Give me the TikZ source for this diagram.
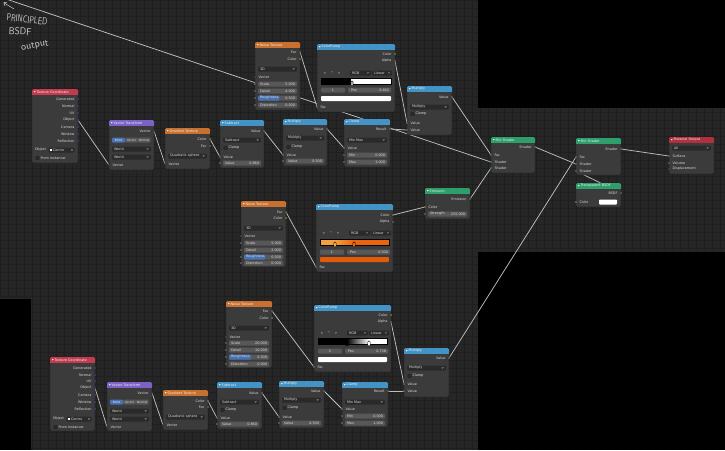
\documentclass[tikz,border=0pt]{standalone}
\usepackage{fontspec}
\setmainfont{DejaVu Sans}
\usetikzlibrary{arrows.meta}
\definecolor{bgc}{HTML}{262626}
\definecolor{gridc}{HTML}{1F1F1F}
\definecolor{nodegray}{HTML}{3B3B3B}
\definecolor{nodeedge}{HTML}{1A1A1A}
\definecolor{hred}{HTML}{C43A4F}
\definecolor{hredb}{HTML}{B22F40}
\definecolor{hpur}{HTML}{7C62C8}
\definecolor{horg}{HTML}{C8702F}
\definecolor{hblu}{HTML}{4393C6}
\definecolor{hgrn}{HTML}{2E9E6A}
\definecolor{hdtxt}{HTML}{F0F0F0}
\definecolor{txtgray}{HTML}{D9D9D9}
\definecolor{fldgray}{HTML}{585858}
\definecolor{ddgray}{HTML}{2A2A2A}
\definecolor{selblue}{HTML}{4772B3}
\definecolor{sgry}{HTML}{A1A1A1}
\definecolor{scol}{HTML}{C7C729}
\definecolor{svec}{HTML}{6363C7}
\definecolor{sgrn}{HTML}{63C763}
\definecolor{sockedge}{HTML}{111111}
\definecolor{linkgray}{HTML}{BEBEBE}
\definecolor{handc}{HTML}{D0D0D0}
\definecolor{orA}{HTML}{F4A040}
\definecolor{orB}{HTML}{E8640F}
\definecolor{orS}{HTML}{E35A08}
\pgfdeclarelayer{back}
\pgfdeclarelayer{wires}
\pgfsetlayers{back,wires,main}
\newcommand{\rtf}{\fontsize{3.4}{4}\selectfont}
\newcommand{\smf}{\fontsize{2.9}{3.4}\selectfont}
\tikzset{
  nbody/.style={draw=nodeedge, line width=0.4pt, fill=nodegray, rounded corners=1.3pt, inner sep=0pt, outer sep=0pt},
  htxt/.style={font=\rtf, text=hdtxt, inner sep=0pt, outer sep=0pt},
  rtxt/.style={font=\rtf, text=txtgray, inner sep=0pt, outer sep=0pt},
  stxt/.style={font=\smf, text=txtgray, inner sep=0pt, outer sep=0pt},
  sock/.style={circle, minimum size=2.4pt, inner sep=0pt, outer sep=0pt, draw=sockedge, line width=0.25pt},
  numfld/.style={fill=fldgray, rounded corners=1pt, inner sep=0pt, outer sep=0pt, minimum height=5pt},
  ddfld/.style={fill=ddgray, rounded corners=1pt, inner sep=0pt, outer sep=0pt, minimum height=5pt},
  wire/.style={draw=linkgray, line width=0.75pt},
  chev/.style={draw=txtgray, line width=0.3pt},
  hand/.style={font=\sffamily\fontsize{10}{10}\selectfont, text=handc, inner sep=0pt},
  swatch/.style={rounded corners=0.8pt, inner sep=0pt, outer sep=0pt, minimum height=5pt},
}
% name, x, y, w, h, colour, title
\newcommand{\BNode}[7]{%
  \node[nbody, minimum width=#4pt, minimum height=#5pt, anchor=north west] (#1) at (#2,#3) {};
  \fill[#6, rounded corners=1.3pt] (#2,#3) rectangle ++(#4,5.6);
  \fill[#6] (#2,#3+3) rectangle ++(#4,2.6);
  \fill[hdtxt] (#2+1.8,#3+2.2) -- ++(1.8,0) -- ++(-0.9,1.3) -- cycle;
  \node[htxt, anchor=west] (#1-t) at (#2+4.6,#3+2.9) {#7};
}
\newcommand{\OutS}[5]{%
  \node[rtxt, anchor=east] (#1-l) at (#2-3.5,#3) {#5};
  \node[sock, fill=#4] (#1) at (#2,#3) {};
}
\newcommand{\InS}[5]{%
  \node[sock, fill=#4] (#1) at (#2,#3) {};
  \node[rtxt, anchor=west] (#1-l) at (#2+3.5,#3) {#5};
}
\newcommand{\InF}[6]{%
  \node[sock, fill=sgry] (#1) at (#2,#3) {};
  \node[numfld, minimum width={#4pt-6pt}, anchor=west] (#1-f) at (#2+3,#3) {};
  \node[rtxt, anchor=west] (#1-l) at (#2+5,#3) {#5};
  \node[rtxt, anchor=east] (#1-v) at (#2+#4-5,#3) {#6};
}
\newcommand{\InFR}[6]{%
  \node[sock, fill=sgry] (#1) at (#2,#3) {};
  \node[numfld, minimum width={#4pt-6pt}, anchor=west] (#1-f) at (#2+3,#3) {};
  \fill[selblue, rounded corners=1pt] (#2+3,#3-2.5) rectangle (#2+3+0.55*#4-3.3,#3+2.5);
  \node[rtxt, anchor=west] (#1-l) at (#2+5,#3) {#5};
  \node[rtxt, anchor=east] (#1-v) at (#2+#4-5,#3) {#6};
}
\newcommand{\DDn}[5]{%
  \node[ddfld, minimum width={#4pt-6pt}, anchor=west] (#1) at (#2+3,#3) {};
  \node[rtxt, anchor=west] (#1-l) at (#2+5,#3) {#5};
  \draw[chev] (#2+#4-7.2,#3-0.5) -- ++(0.8,0.8) -- ++(0.8,-0.8);
}
\newcommand{\ChkB}[4]{%
  \node[ddfld, minimum width=3.4pt, minimum height=3.4pt, rounded corners=0.6pt, draw=nodeedge, line width=0.2pt] (#1) at (#2+5.5,#3) {};
  \node[rtxt, anchor=west] (#1-l) at (#2+8.5,#3) {#4};
}
\newcommand{\ObjRow}[4]{%
  \node[rtxt, anchor=west] (#1-l) at (#2+3,#3) {Object};
  \node[ddfld, minimum width={#4pt-20pt}, anchor=west] (#1) at (#2+16.5,#3) {};
  \node[fill=white, minimum size=2.2pt, inner sep=0pt] (#1-i) at (#2+19,#3) {};
  \node[rtxt, anchor=west] (#1-v) at (#2+21,#3) {Contro};
  \node[rtxt, anchor=east] (#1-x) at (#2+#4-4.5,#3) {×};
}
\newcommand{\SegRow}[3]{%
  \node[numfld, fill=selblue, minimum width=13pt, anchor=west] (#1-a) at (#2+3,#3) {};
  \node[numfld, minimum width=12.6pt, anchor=west] (#1-b) at (#2+16.2,#3) {};
  \node[numfld, minimum width=12.6pt, anchor=west] (#1-c) at (#2+29,#3) {};
  \node[stxt, text=white] (#1-at) at (#1-a) {Point};
  \node[stxt] (#1-bt) at (#1-b) {Vector};
  \node[stxt] (#1-ct) at (#1-c) {Normal};
}
\newcommand{\RampTools}[3]{%
  \node[rtxt] (#1-p) at (#2+8,#3) {+};
  \node[rtxt] (#1-m) at (#2+15,#3) {−};
  \draw[chev] (#2+21,#3-0.5) -- ++(0.8,0.8) -- ++(0.8,-0.8);
  \node[ddfld, minimum width=21pt, anchor=west] (#1-r) at (#2+33,#3) {};
  \node[rtxt, anchor=west] (#1-rl) at (#2+35,#3) {RGB};
  \draw[chev] (#2+50,#3-0.5) -- ++(0.8,0.8) -- ++(0.8,-0.8);
  \node[ddfld, minimum width=20pt, anchor=west] (#1-n) at (#2+55,#3) {};
  \node[rtxt, anchor=west] (#1-nl) at (#2+57,#3) {Linear};
  \draw[chev] (#2+71,#3-0.5) -- ++(0.8,0.8) -- ++(0.8,-0.8);
}
\newcommand{\RampRow}[5]{%
  \node[numfld, minimum width=24pt, anchor=west] (#1-i) at (#2+4,#3) {};
  \node[rtxt] (#1-it) at (#1-i) {#4};
  \node[numfld, minimum width=43pt, anchor=west] (#1-p) at (#2+31,#3) {};
  \node[rtxt, anchor=west] (#1-pl) at (#2+34,#3) {Pos};
  \node[rtxt, anchor=east] (#1-pv) at (#2+72,#3) {#5};
}
\newcommand{\RMark}[3]{%
  \draw[black, line width=0.3pt, fill=#3] (#1-1.2,#2+1.5) -- (#1-1.2,#2-2) -- (#1,#2-3.2) -- (#1+1.2,#2-2) -- (#1+1.2,#2+1.5) -- cycle;
}
\begin{document}
\begin{tikzpicture}[x=1pt,y=-1pt]
\useasboundingbox (0,0) rectangle (725,450);
\begin{pgfonlayer}{back}
  \fill[bgc] (0,0) rectangle (725,450);
  \draw[gridc, line width=0.35pt, step=8pt] (0,0) grid (725,450);
  \fill[black] (478,0) rectangle (725,108);
  \fill[black] (478,252) rectangle (725,450);
  \fill[black] (0,299) rectangle (31,450);
\end{pgfonlayer}

% ---------------- TOP ----------------
\BNode{tca}{32}{89}{46}{74}{hred}{Texture Coordinate}
\OutS{tca-gen}{78}{99}{svec}{Generated}
\OutS{tca-nor}{78}{106}{svec}{Normal}
\OutS{tca-uv}{78}{113}{svec}{UV}
\OutS{tca-obj}{78}{120}{svec}{Object}
\OutS{tca-cam}{78}{127}{svec}{Camera}
\OutS{tca-win}{78}{134}{svec}{Window}
\OutS{tca-ref}{78}{141}{svec}{Reflection}
\ObjRow{tca-o}{32}{150}{46}
\ChkB{tca-fi}{32}{158}{From Instancer}

\BNode{vta}{109}{120}{45}{50}{hpur}{Vector Transform}
\OutS{vta-out}{154}{131}{svec}{Vector}
\SegRow{vta-s}{109}{140}
\DDn{vta-d1}{109}{149}{45}{World}
\DDn{vta-d2}{109}{157}{45}{World}
\InS{vta-in}{109}{165}{svec}{Vector}

\BNode{gra}{165}{128}{45}{41}{horg}{Gradient Texture}
\OutS{gra-col}{210}{139}{scol}{Color}
\OutS{gra-fac}{210}{146}{sgry}{Fac}
\DDn{gra-d}{165}{156}{45}{Quadratic sphere}
\InS{gra-in}{165}{164}{svec}{Vector}

\BNode{sba}{220}{120}{44}{48}{hblu}{Subtract}
\OutS{sba-out}{264}{131}{sgry}{Value}
\DDn{sba-d}{220}{140}{44}{Subtract}
\ChkB{sba-c}{220}{148}{Clamp}
\InS{sba-in}{220}{157}{sgry}{Value}
\InF{sba-v}{220}{163}{44}{Value}{0.860}

\BNode{mla}{283}{119}{44}{47}{hblu}{Multiply}
\OutS{mla-out}{327}{129}{sgry}{Value}
\DDn{mla-d}{283}{138}{44}{Multiply}
\ChkB{mla-c}{283}{147}{Clamp}
\InS{mla-in}{283}{155}{sgry}{Value}
\InF{mla-v}{283}{161}{44}{Value}{0.500}

\BNode{cla}{344}{119}{46}{48}{hblu}{Clamp}
\OutS{cla-out}{390}{129}{sgry}{Result}
\DDn{cla-d}{344}{140}{46}{Min Max}
\InS{cla-in}{344}{148}{sgry}{Value}
\InF{cla-mn}{344}{155}{46}{Min}{0.000}
\InF{cla-mx}{344}{162}{46}{Max}{1.000}

\BNode{mlb}{407}{86}{45}{49}{hblu}{Multiply}
\OutS{mlb-out}{452}{97}{sgry}{Value}
\DDn{mlb-d}{407}{107}{45}{Multiply}
\ChkB{mlb-c}{407}{114}{Clamp}
\InS{mlb-i1}{407}{123}{sgry}{Value}
\InS{mlb-i2}{407}{130}{sgry}{Value}

\BNode{nsa}{255}{42}{45}{68}{horg}{Noise Texture}
\OutS{nsa-fac}{300}{52}{sgry}{Fac}
\OutS{nsa-col}{300}{59}{scol}{Color}
\DDn{nsa-d}{255}{69}{45}{3D}
\InS{nsa-vec}{255}{77}{svec}{Vector}
\InF{nsa-sc}{255}{84}{45}{Scale}{5.000}
\InF{nsa-de}{255}{91}{45}{Detail}{4.000}
\InFR{nsa-ro}{255}{98}{45}{Roughness}{0.500}
\InF{nsa-di}{255}{105}{45}{Distortion}{0.000}

\BNode{cra}{317}{44}{78}{68}{hblu}{ColorRamp}
\OutS{cra-col}{395}{54}{scol}{Color}
\OutS{cra-alp}{395}{61}{sgry}{Alpha}
\RampTools{cra-t}{317}{73}
\node[fill=white, minimum width=70pt, minimum height=6pt, inner sep=0pt, anchor=north west] (cra-bar) at (321,78) {};
\fill[black] (321,78) rectangle (351,84);
\draw[black, line width=0.3pt] (321,78) rectangle (391,84);
\RMark{352}{84}{gray!70}
\RampRow{cra-r}{317}{90}{1}{0.462}
\node[swatch, fill=white, minimum width=70pt, anchor=north west] (cra-sw) at (321,96) {};
\InS{cra-fac}{317}{107}{sgry}{Fac}

\BNode{ema}{425}{188}{45}{31}{hgrn}{Emission}
\OutS{ema-out}{470}{199}{sgrn}{Emission}
\InS{ema-col}{425}{207}{scol}{Color}
\InF{ema-st}{425}{214}{45}{Strength}{255.000}

\BNode{nsb}{241}{201}{45}{66}{horg}{Noise Texture}
\OutS{nsb-fac}{286}{212}{sgry}{Fac}
\OutS{nsb-col}{286}{218}{scol}{Color}
\DDn{nsb-d}{241}{228}{45}{3D}
\InS{nsb-vec}{241}{236}{svec}{Vector}
\InF{nsb-sc}{241}{243}{45}{Scale}{5.000}
\InF{nsb-de}{241}{250}{45}{Detail}{2.000}
\InFR{nsb-ro}{241}{257}{45}{Roughness}{0.500}
\InF{nsb-di}{241}{263}{45}{Distortion}{0.000}

\BNode{crb}{316}{204}{77}{68}{hblu}{ColorRamp}
\OutS{crb-col}{393}{215}{scol}{Color}
\OutS{crb-alp}{393}{222}{sgry}{Alpha}
\RampTools{crb-t}{316}{233}
\node[fill=orA, minimum width=69pt, minimum height=6pt, inner sep=0pt, anchor=north west] (crb-bar) at (320,239) {};
\fill[left color=orA, right color=orB] (335,239) rectangle (354,245);
\fill[orB] (354,239) rectangle (389,245);
\draw[black, line width=0.3pt] (320,239) rectangle (389,245);
\RMark{335}{245}{orA}
\RMark{354}{245}{orB}
\RampRow{crb-r}{316}{252}{1}{0.500}
\node[swatch, fill=orS, minimum width=69pt, anchor=north west] (crb-sw) at (320,257) {};
\InS{crb-fac}{316}{267}{sgry}{Fac}

\BNode{msa}{491}{137}{44}{36}{hgrn}{Mix Shader}
\OutS{msa-out}{535}{147}{sgrn}{Shader}
\InS{msa-fac}{491}{155}{sgry}{Fac}
\InS{msa-s1}{491}{162}{sgrn}{Shader}
\InS{msa-s2}{491}{168}{sgrn}{Shader}

\BNode{msb}{576}{138}{45}{37}{hgrn}{Mix Shader}
\OutS{msb-out}{621}{149}{sgrn}{Shader}
\InS{msb-fac}{576}{157}{sgry}{Fac}
\InS{msb-s1}{576}{164}{sgrn}{Shader}
\InS{msb-s2}{576}{171}{sgrn}{Shader}

\BNode{tba}{576}{183}{45}{24}{hgrn}{Transparent BSDF}
\OutS{tba-out}{621}{193}{sgrn}{BSDF}
\InS{tba-col}{576}{202}{scol}{Color}
\node[swatch, fill=white, minimum width=18pt, anchor=west] (tba-sw) at (599,202) {};

\BNode{moa}{669}{137}{45}{37}{hredb}{Material Output}
\DDn{moa-d}{669}{148}{45}{All}
\InS{moa-su}{669}{156}{sgrn}{Surface}
\InS{moa-vo}{669}{163}{sgrn}{Volume}
\InS{moa-di}{669}{169}{svec}{Displacement}

% ---------------- BOTTOM ----------------
\BNode{tcb}{50}{357}{45}{74}{hred}{Texture Coordinate}
\OutS{tcb-gen}{95}{368}{svec}{Generated}
\OutS{tcb-nor}{95}{375}{svec}{Normal}
\OutS{tcb-uv}{95}{381}{svec}{UV}
\OutS{tcb-obj}{95}{388}{svec}{Object}
\OutS{tcb-cam}{95}{395}{svec}{Camera}
\OutS{tcb-win}{95}{402}{svec}{Window}
\OutS{tcb-ref}{95}{409}{svec}{Reflection}
\ObjRow{tcb-o}{50}{419}{45}
\ChkB{tcb-fi}{50}{427}{From Instancer}

\BNode{vtb}{107}{382}{45}{49}{hpur}{Vector Transform}
\OutS{vtb-out}{152}{393}{svec}{Vector}
\SegRow{vtb-s}{107}{402}
\DDn{vtb-d1}{107}{411}{45}{World}
\DDn{vtb-d2}{107}{419}{45}{World}
\InS{vtb-in}{107}{427}{svec}{Vector}

\BNode{grb}{163}{390}{45}{40}{horg}{Gradient Texture}
\OutS{grb-col}{208}{401}{scol}{Color}
\OutS{grb-fac}{208}{407}{sgry}{Fac}
\DDn{grb-d}{163}{417}{45}{Quadratic sphere}
\InS{grb-in}{163}{425}{svec}{Vector}

\BNode{sbb}{217}{382}{45}{47}{hblu}{Subtract}
\OutS{sbb-out}{262}{393}{sgry}{Value}
\DDn{sbb-d}{217}{402}{45}{Subtract}
\ChkB{sbb-c}{217}{410}{Clamp}
\InS{sbb-in}{217}{418}{sgry}{Value}
\InF{sbb-v}{217}{424}{45}{Value}{0.860}

\BNode{mlc}{279}{381}{45}{47}{hblu}{Multiply}
\OutS{mlc-out}{324}{391}{sgry}{Value}
\DDn{mlc-d}{279}{400}{45}{Multiply}
\ChkB{mlc-c}{279}{408}{Clamp}
\InS{mlc-in}{279}{417}{sgry}{Value}
\InF{mlc-v}{279}{423}{45}{Value}{0.500}

\BNode{clb}{342}{382}{46}{45}{hblu}{Clamp}
\OutS{clb-out}{388}{391}{sgry}{Result}
\DDn{clb-d}{342}{402}{46}{Min Max}
\InS{clb-in}{342}{409}{sgry}{Value}
\InF{clb-mn}{342}{416}{46}{Min}{0.000}
\InF{clb-mx}{342}{423}{46}{Max}{1.000}

\BNode{mld}{404}{348}{45}{49}{hblu}{Multiply}
\OutS{mld-out}{449}{358}{sgry}{Value}
\DDn{mld-d}{404}{368}{45}{Multiply}
\ChkB{mld-c}{404}{376}{Clamp}
\InS{mld-i1}{404}{384}{sgry}{Value}
\InS{mld-i2}{404}{391}{sgry}{Value}

\BNode{nsc}{226}{301}{46}{67}{horg}{Noise Texture}
\OutS{nsc-fac}{272}{311}{sgry}{Fac}
\OutS{nsc-col}{272}{318}{scol}{Color}
\DDn{nsc-d}{226}{328}{46}{3D}
\InS{nsc-vec}{226}{337}{svec}{Vector}
\InF{nsc-sc}{226}{343}{46}{Scale}{20.000}
\InF{nsc-de}{226}{350}{46}{Detail}{10.000}
\InFR{nsc-ro}{226}{357}{46}{Roughness}{0.500}
\InF{nsc-di}{226}{364}{46}{Distortion}{0.000}

\BNode{crc}{314}{305}{77}{67}{hblu}{ColorRamp}
\OutS{crc-col}{391}{315}{scol}{Color}
\OutS{crc-alp}{391}{322}{sgry}{Alpha}
\RampTools{crc-t}{314}{333}
\node[fill=white, minimum width=69pt, minimum height=6pt, inner sep=0pt, anchor=north west] (crc-bar) at (318,338) {};
\fill[black] (318,338) rectangle (347,344);
\fill[left color=black, right color=white] (347,338) rectangle (369,344);
\draw[black, line width=0.3pt] (318,338) rectangle (387,344);
\RMark{347}{344}{black}
\RMark{369}{344}{white}
\RampRow{crc-r}{314}{351}{2}{0.738}
\node[swatch, fill=white, minimum width=69pt, anchor=north west] (crc-sw) at (318,357) {};
\InS{crc-fac}{314}{367}{sgry}{Fac}

% ---------------- links ----------------
\coordinate (pbsdf) at (6,-1);
\begin{pgfonlayer}{wires}
  \draw[wire] (tca-obj.center) -- (vta-in.center);
  \draw[wire] (vta-out.center) -- (gra-in.center);
  \draw[wire] (gra-col.center) -- (sba-in.center);
  \draw[wire] (sba-out.center) -- (mla-in.center);
  \draw[wire] (mla-out.center) -- (cla-in.center);
  \draw[wire] (cla-out.center) -- (mlb-i2.center);
  \draw[wire] (nsa-fac.center) -- (cra-fac.center);
  \draw[wire] (cra-alp.center) -- (mlb-i1.center);
  \draw[wire] (mlb-out.center) -- (msa-fac.center);
  \draw[wire] (pbsdf) -- (msa-s1.center);
  \draw[wire] (nsb-fac.center) -- (crb-fac.center);
  \draw[wire] (crb-col.center) -- (ema-col.center);
  \draw[wire] (ema-out.center) -- (msa-s2.center);
  \draw[wire] (msa-out.center) -- (msb-s1.center);
  \draw[wire] (tba-out.center) -- (msb-s2.center);
  \draw[wire] (msb-out.center) -- (moa-su.center);
  \draw[wire] (mld-out.center) -- (msb-fac.center);
  \draw[wire] (tcb-obj.center) -- (vtb-in.center);
  \draw[wire] (vtb-out.center) -- (grb-in.center);
  \draw[wire] (grb-col.center) -- (sbb-in.center);
  \draw[wire] (sbb-out.center) -- (mlc-in.center);
  \draw[wire] (mlc-out.center) -- (clb-in.center);
  \draw[wire] (clb-out.center) -- (mld-i2.center);
  \draw[wire] (nsc-fac.center) -- (crc-fac.center);
  \draw[wire] (crc-alp.center) -- (mld-i1.center);
\end{pgfonlayer}

% ---------------- handwritten note ----------------
\coordinate (arS) at (14,9);
\coordinate (arE) at (3.5,2.5);
\draw[handc, line width=0.5pt, -{Straight Barb[length=2.5pt,width=4pt]}] (arS) -- (arE);
\node[hand, rotate=-6] (hw1) at (27,19.5) {\scalebox{0.72}[1]{PRINCIPLED}};
\node[hand, rotate=-3] (hw2) at (20,31.5) {\scalebox{0.9}[1]{BSDF}};
\node[hand, rotate=10] (hw3) at (35,46) {output};
\end{tikzpicture}
\end{document}
